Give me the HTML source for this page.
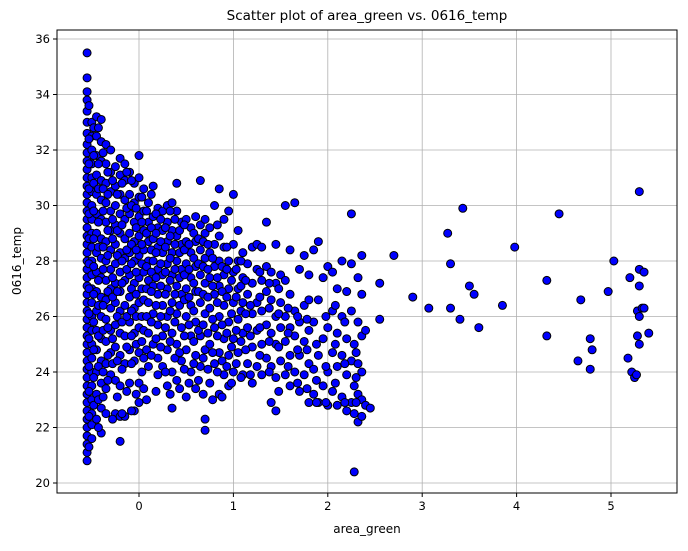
<!DOCTYPE html>
<html><head><meta charset="utf-8"><style>
body{margin:0;background:#fff;font-family:"Liberation Sans","DejaVu Sans",sans-serif}
svg text{font-family:"DejaVu Sans","Liberation Sans",sans-serif;fill:#000}
</style></head><body>
<svg id="chart" width="688" height="546">
<rect width="688" height="546" fill="#fff"/>
<text x="367" y="20" font-size="13.5" text-anchor="middle">Scatter plot of area_green vs. 0616_temp</text>
<g id="grid"></g><g id="pts"></g>
<rect x="57" y="30" width="620" height="463" fill="none" stroke="#000" stroke-width="1"/>
<g id="ticks"></g>
<text x="367" y="533" font-size="12" text-anchor="middle">area_green</text>
<text x="21" y="261" font-size="12" text-anchor="middle" transform="rotate(-90 21 261)">0616_temp</text>
</svg>
<script>
const xTicks=[0,1,2,3,4,5];
const yTicks=[20,22,24,26,28,30,32,34,36];
const bandX=[-0.55,-0.5,-0.45,-0.4,-0.35,-0.3,-0.25,-0.2,-0.15,-0.1,-0.05,0,0.05,0.1,0.15,0.2,0.25,0.3,0.35,0.4,0.45,0.5,0.55,0.6,0.65,0.7,0.75,0.8,0.85,0.9,0.95,1.0,1.05,1.1,1.15,1.2,1.25,1.3,1.35,1.4,1.45,1.5,1.55,1.6,1.65,1.7,1.75,1.8,1.85,1.9,1.95,2.0,2.05,2.1,2.15,2.2,2.25,2.28,2.32,2.36,2.4,2.45];
const bandY=[
[20.8,21.1,21.4,21.7,22.0,22.3,22.6,22.9,23.2,23.5,23.8,24.1,24.4,24.7,25.0,25.3,25.6,25.9,26.2,26.5,26.8,27.1,27.4,27.7,28.0,28.3,28.6,28.9,29.2,29.5,29.8,30.1,30.4,30.7,31.0,31.3,31.6,31.9,32.2,32.6,33.0,33.4,33.8,34.1,34.6,35.5],
[21.6,22.1,22.5,23.0,23.5,24.0,24.5,25.0,25.5,26.0,26.5,27.0,27.5,28.0,28.5,29.0,29.5,30.0,30.5,31.0,31.5,32.0,32.5,33.0],
[22.3,23.2,24.0,24.8,25.5,26.2,26.9,27.6,28.3,29.0,29.7,30.4,31.1,31.8,32.5,33.2],
[21.8,22.7,23.6,24.4,25.2,26.0,26.7,27.4,28.1,28.8,29.5,30.2,30.9,31.6,32.3,33.1],
[22.5,23.4,24.3,25.1,25.9,26.6,27.3,28.0,28.7,29.4,30.1,30.8,31.5,32.2],
[23.9,24.7,25.5,26.3,27.0,27.7,28.4,29.1,29.8,30.5,31.2,32.0],
[22.5,23.7,24.9,25.7,26.5,27.2,27.9,28.6,29.3,30.0,30.7,31.4],
[21.5,22.4,23.5,24.6,25.4,26.2,26.9,27.6,28.3,29.0,29.7,30.4,31.1,31.7],
[22.4,24.3,25.3,26.4,27.3,28.1,28.8,29.5,30.2,30.9,31.5],
[23.6,24.8,25.8,26.7,27.5,28.3,29.0,29.7,30.4,31.2],
[22.6,24.4,25.4,26.3,27.2,28.0,28.7,29.4,30.1,30.8],
[22.9,23.6,24.7,25.6,26.5,27.4,28.2,28.9,29.6,30.3,31.0,31.8],
[23.4,24.5,25.5,26.6,27.6,28.4,29.1,29.8,30.6],
[24.2,25.4,26.5,27.3,28.0,28.7,29.4,30.1],
[25.0,26.1,27.1,28.0,28.8,29.6,30.7],
[23.9,24.5,25.7,26.8,27.7,28.5,29.2,29.9],
[24.2,25.3,26.4,27.5,28.3,29.1,29.8],
[23.5,24.8,26.0,27.0,27.9,28.7,29.4,30.0],
[22.7,24.0,25.4,26.5,27.5,28.3,29.1,30.1],
[23.7,25.0,26.1,27.1,28.0,28.9,29.8,30.8],
[24.4,25.6,26.8,27.7,28.6,29.4],
[23.1,24.8,26.0,27.0,27.9,28.7,29.5],
[24.0,25.3,26.4,27.4,28.3,29.2],
[23.4,24.6,25.8,26.9,27.8,28.7,29.6],
[24.2,25.3,26.5,27.5,28.4,29.3,30.9],
[21.9,22.3,24.8,26.1,27.2,28.1,29.0,29.5],
[23.6,25.0,26.3,27.4,28.3,29.2],
[24.3,25.6,26.8,27.8,28.6,30.0],
[23.2,24.7,26.0,27.1,28.0,28.9,30.6],
[23.9,25.2,26.4,27.5,28.5,29.5],
[23.5,24.6,25.8,27.0,28.0,29.8],
[24.0,25.2,26.5,27.6,28.6,30.4],
[24.7,25.9,27.0,28.0,29.1],
[23.9,25.4,26.5,27.4,28.3],
[24.3,25.6,26.8,27.9],
[23.6,24.9,26.1,27.2,28.5],
[24.2,25.5,26.5,27.7,28.6],
[23.9,25.0,26.2,27.3,28.5],
[24.5,25.7,26.9,27.8,29.4],
[22.9,24.2,25.4,26.6,27.6],
[22.6,23.8,25.0,26.0,27.2,28.6],
[24.4,25.6,26.5,27.5],
[23.9,25.1,26.0,27.3,30.0],
[23.5,24.6,25.6,26.8,28.4],
[24.0,25.3,26.2,30.1],
[23.3,24.6,25.8,27.7],
[23.9,25.1,26.4,28.2],
[22.9,24.3,25.5,26.6,27.5],
[23.2,24.1,25.8,28.4],
[22.9,24.6,26.6,28.7],
[23.5,25.2,27.4],
[22.8,24.0,25.6,27.8],
[23.3,24.7,26.2,27.6],
[22.8,24.2,25.4,27.0],
[23.1,24.6,26.0,28.0],
[22.6,23.9,25.2,26.9],
[22.9,24.4,26.2,27.9,29.7],
[20.4,22.5,23.5,25.0],
[22.2,23.2,24.3,25.8,27.4],
[22.4,23.0,24.0,25.3,26.8,28.2],
[22.8,25.5],
[22.7]];
const bandX2=[-0.53,-0.48,-0.43,-0.38,-0.33,-0.28,-0.23,-0.18,-0.13,-0.08,-0.03,0.03,0.08,0.13,0.18,0.23,0.28,0.33,0.38,0.43,0.48,0.53,0.58,0.63,0.68,0.73,0.78,0.83,0.88,0.93,0.98,1.03,1.08,1.13,1.18,1.28,1.38,1.48,1.58,1.68,1.78,1.88,1.98,2.08,2.18,2.3];
const bandY2=[
[21.3,22.4,23.3,24.2,25.2,26.1,27.0,27.9,28.8,29.7,30.6,31.5,32.4,33.6],
[22.8,23.8,24.8,25.8,26.8,27.8,28.8,29.8,30.8,31.8,32.8],
[22.0,23.0,24.2,25.3,26.4,27.3,28.5,29.4,30.6,31.5,32.8],
[23.1,24.0,25.5,26.4,27.7,28.5,29.8,30.6,31.9],
[23.7,24.6,25.6,26.9,28.2,29.1,30.4,31.2],
[22.3,24.3,25.2,26.7,27.4,28.8,29.5,30.9],
[23.1,24.4,26.0,26.9,28.2,29.1,30.4],
[22.5,24.1,25.8,27.2,28.0,29.3,30.8],
[23.3,24.9,26.0,27.7,28.4,29.9,31.2],
[22.6,24.3,25.3,26.2,27.0,27.9,28.6,30.0,30.9],
[23.2,25.0,26.0,26.8,27.6,28.4,29.2,29.9],
[24.0,25.1,26.0,27.0,27.9,28.6,29.4,30.3],
[23.0,24.8,26.0,27.0,27.8,29.0,29.8],
[24.6,25.8,26.9,27.6,28.4,29.2,30.4],
[23.3,25.2,26.4,27.4,28.3,29.0,29.7],
[24.9,26.0,27.1,27.9,28.7,29.5],
[24.0,25.6,26.8,27.6,28.5,29.2],
[23.2,25.1,26.2,27.3,28.1,28.9,29.8],
[24.5,25.8,26.8,27.7,28.6,29.5],
[23.4,24.7,26.4,27.4,28.3,29.1],
[24.1,25.3,26.6,27.5,28.4,29.3],
[23.6,25.7,26.7,27.7,28.6],
[24.3,25.1,26.2,27.2,28.1,29.0],
[23.7,25.5,26.9,27.9,28.8],
[23.2,24.5,25.7,26.8,27.8,28.7],
[24.1,25.4,26.7,27.7,28.6],
[23.0,24.7,25.9,27.1,28.1],
[24.0,25.3,26.5,27.4,29.3],
[23.1,24.4,25.7,26.9,27.8],
[24.2,25.4,26.7,27.7,28.5],
[23.6,24.9,26.1,27.3],
[24.3,25.5,26.7,27.7],
[23.8,25.1,26.2,27.1,28.0],
[24.8,26.1,27.3],
[23.9,25.3,26.4],
[24.6,25.6,26.7,27.6],
[24.0,25.1,26.3,27.2],
[23.3,24.9,26.1,27.0],
[24.2,25.4,26.3],
[23.6,24.8,26.0],
[23.4,24.8,25.9],
[22.9,23.7,25.0],
[22.9,24.2,26.0],
[23.6,25.0,26.4],
[22.9,24.3,25.8],
[22.9,23.8,24.7]];
const outX=[2.55,2.55,2.7,2.9,3.07,3.27,3.3,3.3,3.4,3.43,3.5,3.55,3.6,3.85,3.98,4.32,4.32,4.45,4.65,4.68,4.78,4.78,4.8,4.97,5.03,5.18,5.2,5.22,5.25,5.27,5.28,5.28,5.3,5.3,5.3,5.3,5.33,5.35,5.35,5.4,5.3];
const outY=[27.2,25.9,28.2,26.7,26.3,29.0,27.9,26.3,25.9,29.9,27.1,26.8,25.6,26.4,28.5,27.3,25.3,29.7,24.4,26.6,25.2,24.1,24.8,26.9,28.0,24.5,27.4,24.0,23.8,23.9,25.3,26.2,30.5,27.7,27.1,25.0,26.3,27.6,26.3,25.4,26.0];
const NS='http://www.w3.org/2000/svg';
const L=57,R=677,T=30,B=493;
function sx(v){return 139+v*94.4;}
function sy(v){return 483-(v-20)*27.75;}
const grid=document.getElementById('grid'),ticks=document.getElementById('ticks'),pts=document.getElementById('pts');
function mk(tag,attrs,parent){const e=document.createElementNS(NS,tag);for(const k in attrs)e.setAttribute(k,attrs[k]);parent.appendChild(e);return e;}
xTicks.forEach(t=>{const x=sx(t);
const g=mk('line',{x1:x,x2:x,y1:T,y2:B,stroke:'#b0b0b0','stroke-width':0.8},grid);


mk('line',{x1:x,x2:x,y1:B,y2:B+4,stroke:'#000'},ticks);
const tx=mk('text',{x:x,y:B+17,'font-size':11.5,'text-anchor':'middle'},ticks);tx.textContent=t;

});
yTicks.forEach(t=>{const y=sy(t);
const g=mk('line',{x1:L,x2:R,y1:y,y2:y,stroke:'#b0b0b0','stroke-width':0.8},grid);


mk('line',{x1:L-4,x2:L,y1:y,y2:y,stroke:'#000'},ticks);
const tx=mk('text',{x:L-7,y:y+4,'font-size':11.5,'text-anchor':'end'},ticks);tx.textContent=t;

});
function dot(x,y){const c=mk('circle',{cx:sx(x),cy:sy(y),r:4,fill:'#0000ff',stroke:'#000','stroke-width':1},pts);

}
bandX.forEach((x,i)=>bandY[i].forEach(y=>dot(x,y)));
bandX2.forEach((x,i)=>bandY2[i].forEach(y=>dot(x,y)));
outX.forEach((x,i)=>dot(x,outY[i]));
</script>
</body></html>
